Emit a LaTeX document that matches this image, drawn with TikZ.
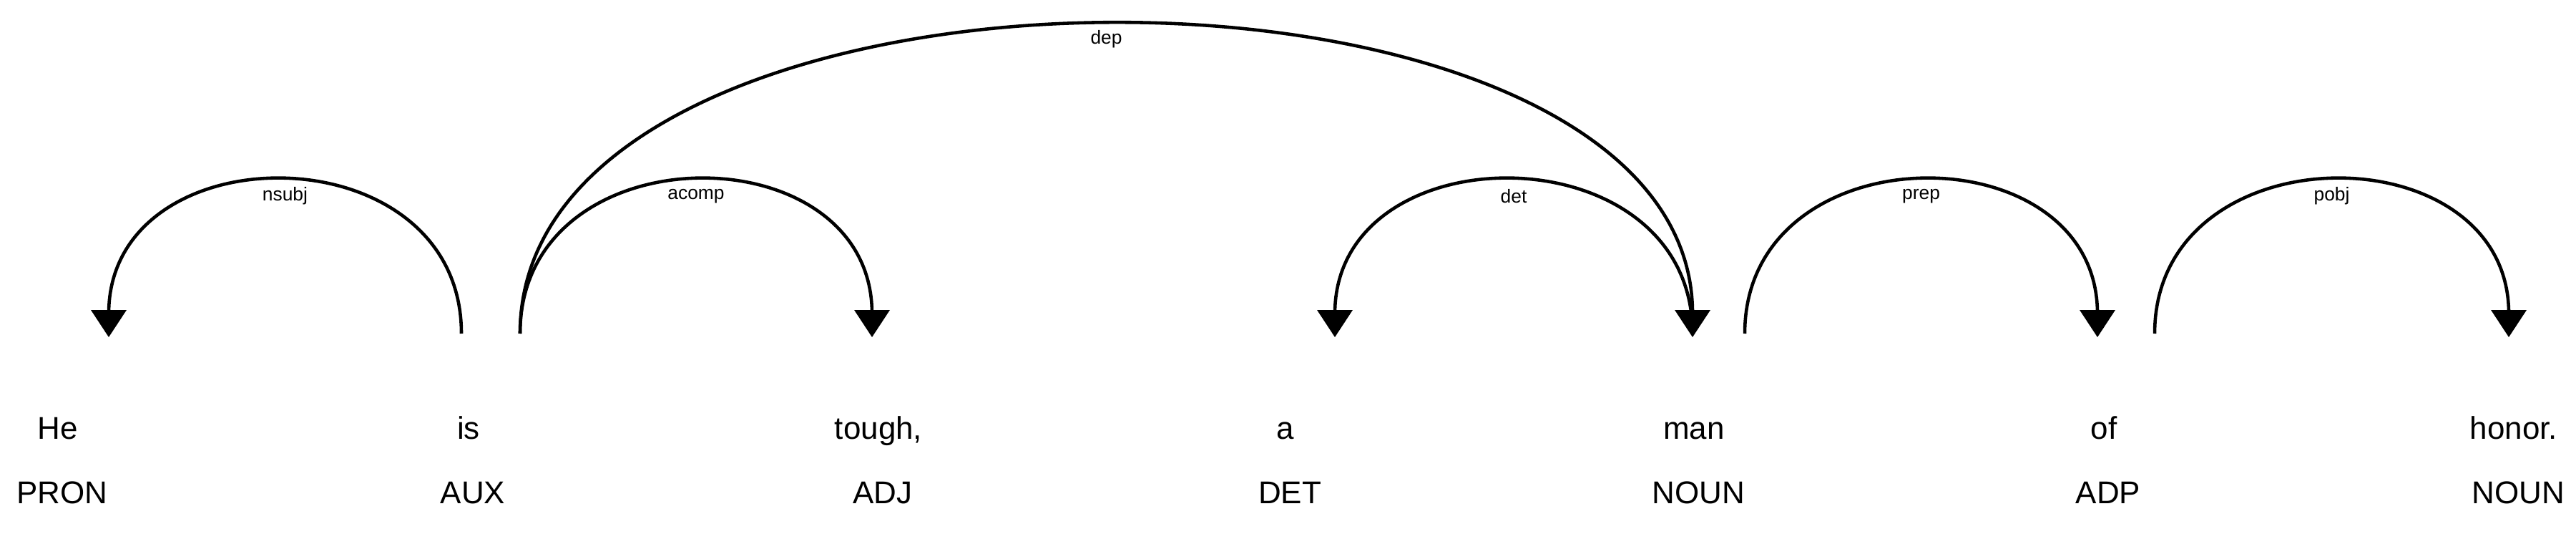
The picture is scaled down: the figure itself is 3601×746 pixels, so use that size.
\documentclass[tikz,border=0pt]{standalone}
\usepackage{fontspec}
\setmainfont{Liberation Sans}
\usetikzlibrary{calc}
\begin{document}
\begin{tikzpicture}[x=0.01cm,y=-0.01cm,
  word/.style={anchor=base,inner sep=0,font=\fontsize{12.5pt}{14pt}\selectfont},
  lbl/.style={inner sep=0,font=\fontsize{7.5pt}{9pt}\selectfont},
  arc/.style={line width=1.3pt},
  head/.style={fill=black}]
\useasboundingbox (0,0) rectangle (3601,746);
% words and tags
\foreach \w/\t/\x/\n in {He/PRON/81/0,is/AUX/655/1,{tough,}/ADJ/1228/2,a/DET/1797/3,man/NOUN/2368/4,of/ADP/2941/5,honor./NOUN/3514/6}{
  \node[word] (w\n) at (\x,613) {\w};
  \node[word] (t\n) at (\x+6,703) {\t};
}
% arc end points
\coordinate (nsT) at (645,466); \coordinate (nsH) at (152,438);
\coordinate (acT) at (727,466); \coordinate (acH) at (1219,438);
\coordinate (dpT) at (727,466); \coordinate (dpH) at (2366,438);
\coordinate (dtT) at (2366,466); \coordinate (dtH) at (1866,438);
\coordinate (prT) at (2439,466); \coordinate (prH) at (2932,438);
\coordinate (pbT) at (3012,466); \coordinate (pbH) at (3507,438);
\foreach \a/\h in {ns/285,ac/285,dp/575,dt/285,pr/285,pb/285}{
  \draw[arc] (\a T) .. controls ($(\a T)+(0,-\h)$) and ($(\a H)+(0,-\h+28)$) .. (\a H);
  \fill[head] ($(\a H)+(0,33)$) -- ($(\a H)+(-25,-5)$) -- ($(\a H)+(25,-5)$) -- cycle;
  \path (\a T) -- (\a H) coordinate[pos=0.5] (\a M);
}
\node[lbl] at ($(nsM)+(0,-178)$) {nsubj};
\node[lbl] at ($(acM)+(0,-178)$) {acomp};
\node[lbl] at ($(dpM)+(0,-397)$) {dep};
\node[lbl] at ($(dtM)+(0,-178)$) {det};
\node[lbl] at ($(prM)+(0,-178)$) {prep};
\node[lbl] at ($(pbM)+(0,-178)$) {pobj};
\end{tikzpicture}
\end{document}
